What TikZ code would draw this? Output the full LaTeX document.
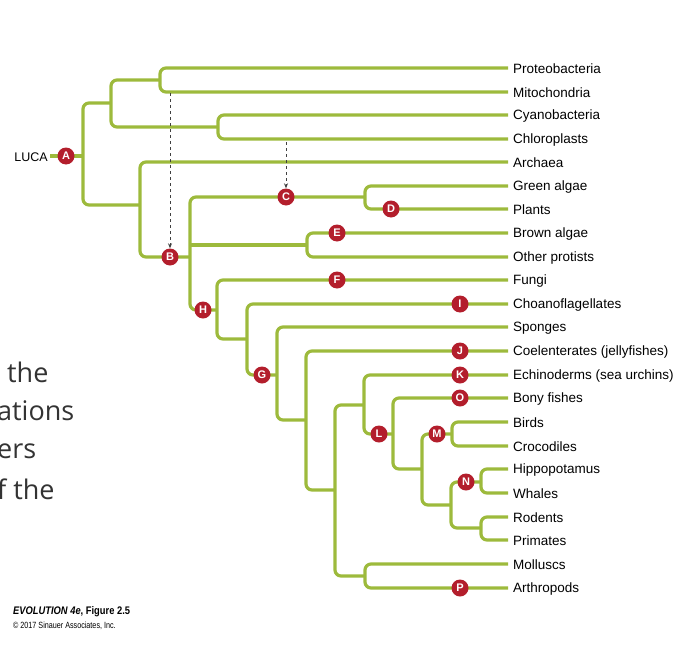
\documentclass[tikz,border=0pt]{standalone}
\usepackage{fontspec}
\setmainfont{Liberation Sans}
\newfontfamily\sidefont{Open Sans}
\usetikzlibrary{arrows.meta}
\definecolor{br}{HTML}{9DBA3C}
\definecolor{cr}{HTML}{B31E2C}
\tikzset{
 br/.style={draw=br,line width=3.2pt,rounded corners=6pt},
 lf/.style={anchor=west,font=\fontsize{13.5}{14}\selectfont,inner sep=0pt},
 mk/.style={circle,fill=cr,text=white,inner sep=0pt,minimum size=17pt,font=\bfseries\fontsize{11}{11}\selectfont},
 dl/.style={draw=black!75,dashed,line width=0.7pt,-{Stealth[length=5pt,width=4pt]}},
 sd/.style={anchor=west,inner sep=0pt,font=\sidefont\fontsize{27}{28}\selectfont,text=black!80}
}
\begin{document}
\begin{tikzpicture}[x=1pt,y=-1pt]
\useasboundingbox (0,0) rectangle (700,650);
% leaves
\foreach \n/\y/\t in {l1/68/Proteobacteria,l2/92/Mitochondria,l3/115/Cyanobacteria,l4/139/Chloroplasts,l5/162/Archaea,l6/186/Green algae,l7/209/Plants,l8/233/Brown algae,l9/257/Other protists,l10/280/Fungi,l11/304/Choanoflagellates,l12/327/Sponges,l13/351/Coelenterates (jellyfishes),l14/375/Echinoderms (sea urchins),l15/398/Bony fishes,l16/422/Birds,l17/446/Crocodiles,l18/469/Hippopotamus,l19/493/Whales,l20/517/Rodents,l21/540/Primates,l22/564/Molluscs,l23/588/Arthropods}
 \node[lf] (\n) at (513,\y+1) {\t};
% branches
\path[br] (50,156) -- (83,156);
\path[br] (111,103) -- (83,103) -- (83,205) -- (140,205);
\path[br] (160,80) -- (111,80) -- (111,127) -- (218,127);
\path[br] (508,68) -- (160,68) -- (160,92) -- (508,92);
\path[br] (508,115) -- (218,115) -- (218,139) -- (508,139);
\path[br] (508,162) -- (140,162) -- (140,257) -- (190,257);
\path[br] (365,197) -- (190,197) -- (190,310) -- (217,310);
\path[br] (190,245) -- (307,245);
\path[br] (508,186) -- (365,186) -- (365,209) -- (508,209);
\path[br] (508,233) -- (307,233) -- (307,257) -- (508,257);
\path[br] (508,280) -- (217,280) -- (217,339) -- (247,339);
\path[br] (508,304) -- (247,304) -- (247,375) -- (277,375);
\path[br] (508,327) -- (277,327) -- (277,420) -- (306,420);
\path[br] (508,351) -- (306,351) -- (306,490) -- (335,490);
\path[br] (364,405) -- (335,405) -- (335,576) -- (365,576);
\path[br] (508,375) -- (364,375) -- (364,434) -- (393,434);
\path[br] (508,398) -- (393,398) -- (393,469) -- (422,469);
\path[br] (452,434) -- (422,434) -- (422,505) -- (451,505);
\path[br] (508,422) -- (452,422) -- (452,446) -- (508,446);
\path[br] (481,482) -- (451,482) -- (451,528) -- (481,528);
\path[br] (508,469) -- (481,469) -- (481,493) -- (508,493);
\path[br] (508,517) -- (481,517) -- (481,540) -- (508,540);
\path[br] (508,564) -- (365,564) -- (365,588) -- (508,588);
% markers
\node[anchor=east,font=\fontsize{12.5}{13}\selectfont,inner sep=0pt] (luca) at (48,157) {LUCA};
\foreach \n/\x/\y in {A/66/156,B/170/257,C/286/197,D/391/209,E/337/233,F/337/280,G/262/375,H/203/310,I/460/304,J/460/351,K/460/375,L/379/434,M/437/434,N/466/482,O/460/398,P/460/588}
 \node[mk] (\n) at (\x,\y) {\n};
\coordinate (sB) at (170,93);
\coordinate (sC) at (286,142);
\draw[dl] (sB) -- (B.north);
\draw[dl] (sC) -- (C.north);
% side text
\node[sd] (s1) at (7,372) {the};
\node[sd] (s2) at (-3,411) {ations};
\node[sd] (s3) at (-3,451) {ers};
\node[sd] (s4) at (-3,489) {f the};
\node[anchor=west,inner sep=0pt,font=\bfseries\fontsize{11}{11}\selectfont,xscale=0.85] (c1) at (13,612) {\textit{EVOLUTION 4e}, Figure 2.5};
\node[anchor=west,inner sep=0pt,font=\fontsize{9}{9}\selectfont,xscale=0.8] (c2) at (13,626) {\textcopyright\ 2017 Sinauer Associates, Inc.};
\end{tikzpicture}
\end{document}
